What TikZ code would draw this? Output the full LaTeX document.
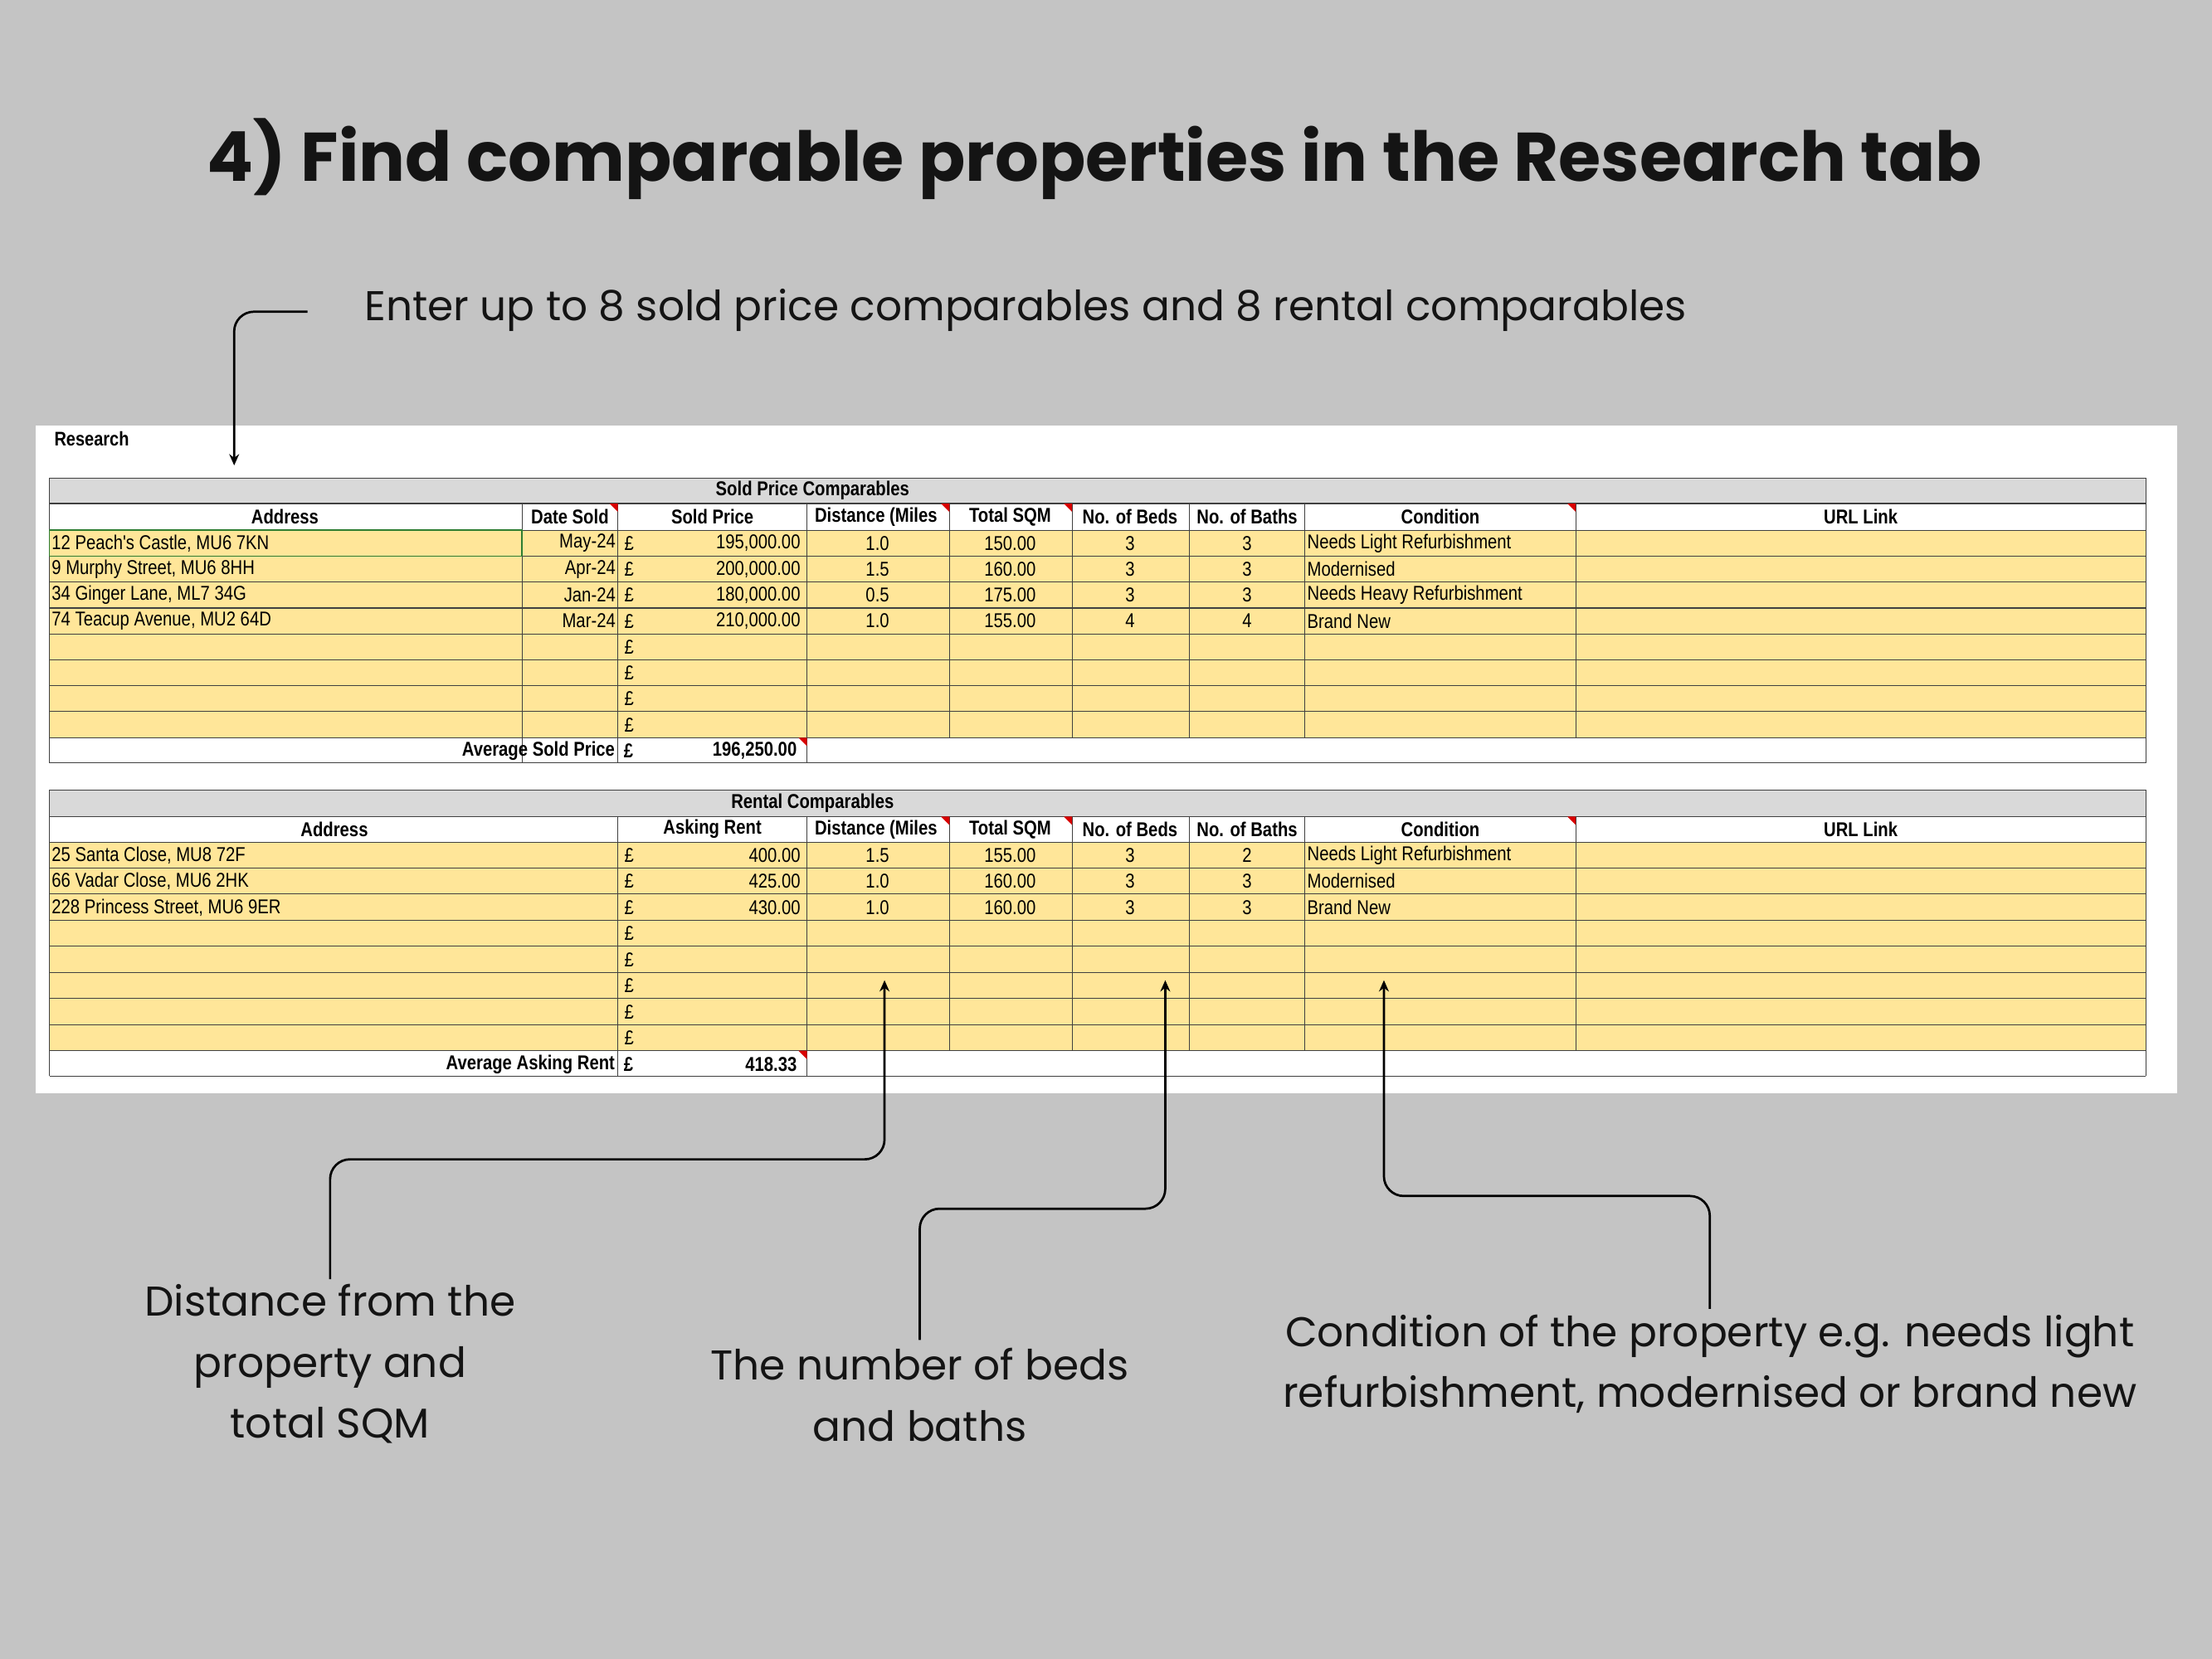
\documentclass[tikz,border=0pt]{standalone}
\usepackage{fontspec}
\setmainfont{Poppins}
\newfontfamily\tabf[FakeStretch=0.84]{Liberation Sans}
\usetikzlibrary{arrows.meta}
\definecolor{bg}{HTML}{C4C4C4}
\definecolor{cellY}{HTML}{FFE699}
\definecolor{hdrG}{HTML}{D9D9D9}
\definecolor{selG}{HTML}{2E7D32}
\tikzset{
  cell/.style={font=\tabf\fontsize{14.2}{15}\selectfont, inner sep=1.5pt},
  hcell/.style={font=\tabf\bfseries\fontsize{14.2}{15}\selectfont, inner sep=1pt},
  anno/.style={font=\fontsize{29.5}{43}\selectfont, align=center, text=black!92},
  pointer/.style={draw=black, line width=1.6pt, rounded corners=14pt, -{Stealth[length=8pt,width=7pt]}},
  gridl/.style={draw=black!75, line width=0.6pt},
}
\newcommand{\redtri}[2]{\fill[red!85!black] (#1-6,#2) -- (#1,#2) -- (#1,#2+6) -- cycle;}
\begin{document}
\begin{tikzpicture}[x=1pt,y=-1pt]
\fill[bg] (0,0) rectangle (1568,1176);
\useasboundingbox (0,0) rectangle (1568,1176);
\node[font=\bfseries\fontsize{48.8}{52}\selectfont, text=black!92] (title) at (776,113) {4) Find comparable properties in the Research tab};
\node[anno] (enter) at (727,220) {Enter up to 8 sold price comparables and 8 rental comparables};
% sheet
\fill[white] (25,302) rectangle (1543,775);
\node[font=\tabf\bfseries\fontsize{14}{15}\selectfont, anchor=west] (research) at (35,311) {Research};
% ---------------- Sold table
\fill[hdrG] (35,339) rectangle (1521,357);
\fill[cellY] (35,376) rectangle (1521,523);
\foreach \y in {339,357,376,394.4,412.8,431.1,449.5,467.9,486.3,504.6,523,541} \draw[gridl] (35,\y) -- (1521,\y);
\draw[gridl] (35,339) -- (35,541) (1521,339) -- (1521,541);
\foreach \x in {370,438} \draw[gridl] (\x,357) -- (\x,541);
\draw[gridl] (572,357) -- (572,541);
\foreach \x in {673,760,843,925,1117} \draw[gridl] (\x,357) -- (\x,523);
\node[hcell] (st) at (576,348) {Sold Price Comparables};
\foreach \x/\t in {202/Address,404/Date Sold,505/Sold Price,621/Distance (Miles,716/Total SQM,801/No. of Beds,884/No. of Baths,1021/Condition,1319/URL Link}
  \node[hcell] at (\x,366.5) {\t};
\redtri{438}{357}\redtri{673}{357}\redtri{760}{357}\redtri{1117}{357}\redtri{572}{523}
\foreach \i/\a/\d/\p/\m/\s/\b/\h/\c in {
  0/12 Peach's Castle{,} MU6 7KN/May-24/195{,}000.00/1.0/150.00/3/3/Needs Light Refurbishment,
  1/9 Murphy Street{,} MU6 8HH/Apr-24/200{,}000.00/1.5/160.00/3/3/Modernised,
  2/34 Ginger Lane{,} ML7 34G/Jan-24/180{,}000.00/0.5/175.00/3/3/Needs Heavy Refurbishment,
  3/74 Teacup Avenue{,} MU2 64D/Mar-24/210{,}000.00/1.0/155.00/4/4/Brand New}{
  \pgfmathsetmacro\yy{385.2+18.375*\i}
  \node[cell,anchor=west] at (35,\yy) {\a};
  \node[cell,anchor=east] at (438,\yy) {\d};
  \node[cell,anchor=east] at (569,\yy) {\p};
  \node[cell] at (622,\yy) {\m};
  \node[cell] at (716,\yy) {\s};
  \node[cell] at (801,\yy) {\b};
  \node[cell] at (884,\yy) {\h};
  \node[cell,anchor=west] at (925,\yy) {\c};
}
\foreach \i in {0,...,7}{\pgfmathsetmacro\yy{385.2+18.375*\i}\node[cell,anchor=west] at (441,\yy) {£};}
\draw[selG, line width=1pt] (35,376) rectangle (370,394.4);
\node[hcell,anchor=east] (avgs) at (437,532.5) {Average Sold Price};
\node[hcell,anchor=west] at (441,532.5) {£};
\node[hcell,anchor=east] at (566,532.5) {196,250.00};
% ---------------- Rental table
\fill[hdrG] (35,560) rectangle (1521,579);
\fill[cellY] (35,597) rectangle (1521,745);
\foreach \y in {560,579,597,615.5,634,652.5,671,689.5,708,726.5,745,763} \draw[gridl] (35,\y) -- (1521,\y);
\draw[gridl] (35,560) -- (35,763) (1521,560) -- (1521,763);
\draw[gridl] (438,579) -- (438,763) (572,579) -- (572,763);
\foreach \x in {673,760,843,925,1117} \draw[gridl] (\x,579) -- (\x,745);
\node[hcell] (rt) at (576,569.5) {Rental Comparables};
\foreach \x/\t in {237/Address,505/Asking Rent,621/Distance (Miles,716/Total SQM,801/No. of Beds,884/No. of Baths,1021/Condition,1319/URL Link}
  \node[hcell] at (\x,588) {\t};
\redtri{673}{579}\redtri{760}{579}\redtri{1117}{579}\redtri{572}{745}
\foreach \i/\a/\p/\m/\s/\b/\h/\c in {
  0/25 Santa Close{,} MU8 72F/400.00/1.5/155.00/3/2/Needs Light Refurbishment,
  1/66 Vadar Close{,} MU6 2HK/425.00/1.0/160.00/3/3/Modernised,
  2/228 Princess Street{,} MU6 9ER/430.00/1.0/160.00/3/3/Brand New}{
  \pgfmathsetmacro\yy{606.3+18.5*\i}
  \node[cell,anchor=west] at (35,\yy) {\a};
  \node[cell,anchor=east] at (569,\yy) {\p};
  \node[cell] at (622,\yy) {\m};
  \node[cell] at (716,\yy) {\s};
  \node[cell] at (801,\yy) {\b};
  \node[cell] at (884,\yy) {\h};
  \node[cell,anchor=west] at (925,\yy) {\c};
}
\foreach \i in {0,...,7}{\pgfmathsetmacro\yy{606.3+18.5*\i}\node[cell,anchor=west] at (441,\yy) {£};}
\node[hcell,anchor=east] (avgr) at (437,754.5) {Average Asking Rent};
\node[hcell,anchor=west] at (441,754.5) {£};
\node[hcell,anchor=east] at (566,754.5) {418.33};
% ---------------- annotations
\node[anno] (dist) at (234,967) {Distance from the\\property and\\total SQM};
\node[anno] (beds) at (652,989) {The number of beds\\and baths};
\node[anno] (cond) at (1212,967) {Condition of the property e.g. needs light\\refurbishment, modernised or brand new};
\coordinate (e0) at (218,221); \coordinate (e1) at (166,330);
\coordinate (d0) at (234,907); \coordinate (d1) at (627,695);
\coordinate (b0) at (652,950); \coordinate (b1) at (826,695);
\coordinate (c0) at (1212,928); \coordinate (c1) at (981,695);
\draw[pointer] (e0) -- (166,221) -- (e1);
\draw[pointer] (d0) -- (234,822) -- (627,822) -- (d1);
\draw[pointer] (b0) -- (652,857) -- (826,857) -- (b1);
\draw[pointer] (c0) -- (1212,848) -- (981,848) -- (c1);
\end{tikzpicture}
\end{document}
